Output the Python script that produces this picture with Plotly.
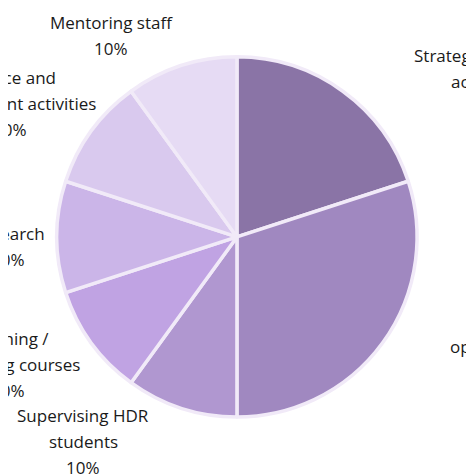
import plotly.graph_objects as go

categories = ["Strategic planning activities", "Operational tasks", "Supervising HDR students",
              "Teaching / delivering courses", "Research", "Service and engagement activities",
              "Mentoring staff"]
values = [20, 30, 10, 10, 10, 10, 10]
colors = ["#8a74a6", "#a088c0", "#b097d0", "#c0a3e3", "#cbb5e8", "#d9c9ee", "#e6dbf4"]

# label lines and pixel centre of the first line - the chart is cropped at the edges
label_lines = [["Strategic planning", "activities", "20%"], ["operational tasks"],
               ["Supervising HDR", "students", "10%"], ["Teaching /", "delivering courses", "10%"],
               ["Research", "10%"], ["Service and", "engagement activities", "10%"],
               ["Mentoring staff", "10%"]]
label_pos = [(477, 48), (510, 338), (75, 407), (0, 330), (0, 225), (2, 70), (103, 15)]
LINE_GAP = 26

fig = go.Figure(go.Pie(
    labels=categories, values=values, sort=False, direction="clockwise", rotation=0,
    marker=dict(colors=colors, line=dict(color="#f1eaf8", width=3.5)),
    textinfo="none", hoverinfo="label+percent", showlegend=False,
    domain=dict(x=[0.103, 0.863], y=[0.137, 0.897]),
))

W = 474
for lines, (px, py) in zip(label_lines, label_pos):
    for i, line in enumerate(lines):
        fig.add_annotation(x=px / W, y=1 - (py + i * LINE_GAP) / W, xref="paper", yref="paper",
                           text=line, showarrow=False, xanchor="center", yanchor="middle",
                           font=dict(family="Open Sans", size=17, color="#1a1a1a"))

fig.update_layout(width=474, height=474, margin=dict(l=0, r=0, t=0, b=0),
                  paper_bgcolor="white")
fig.write_html("out.html")
